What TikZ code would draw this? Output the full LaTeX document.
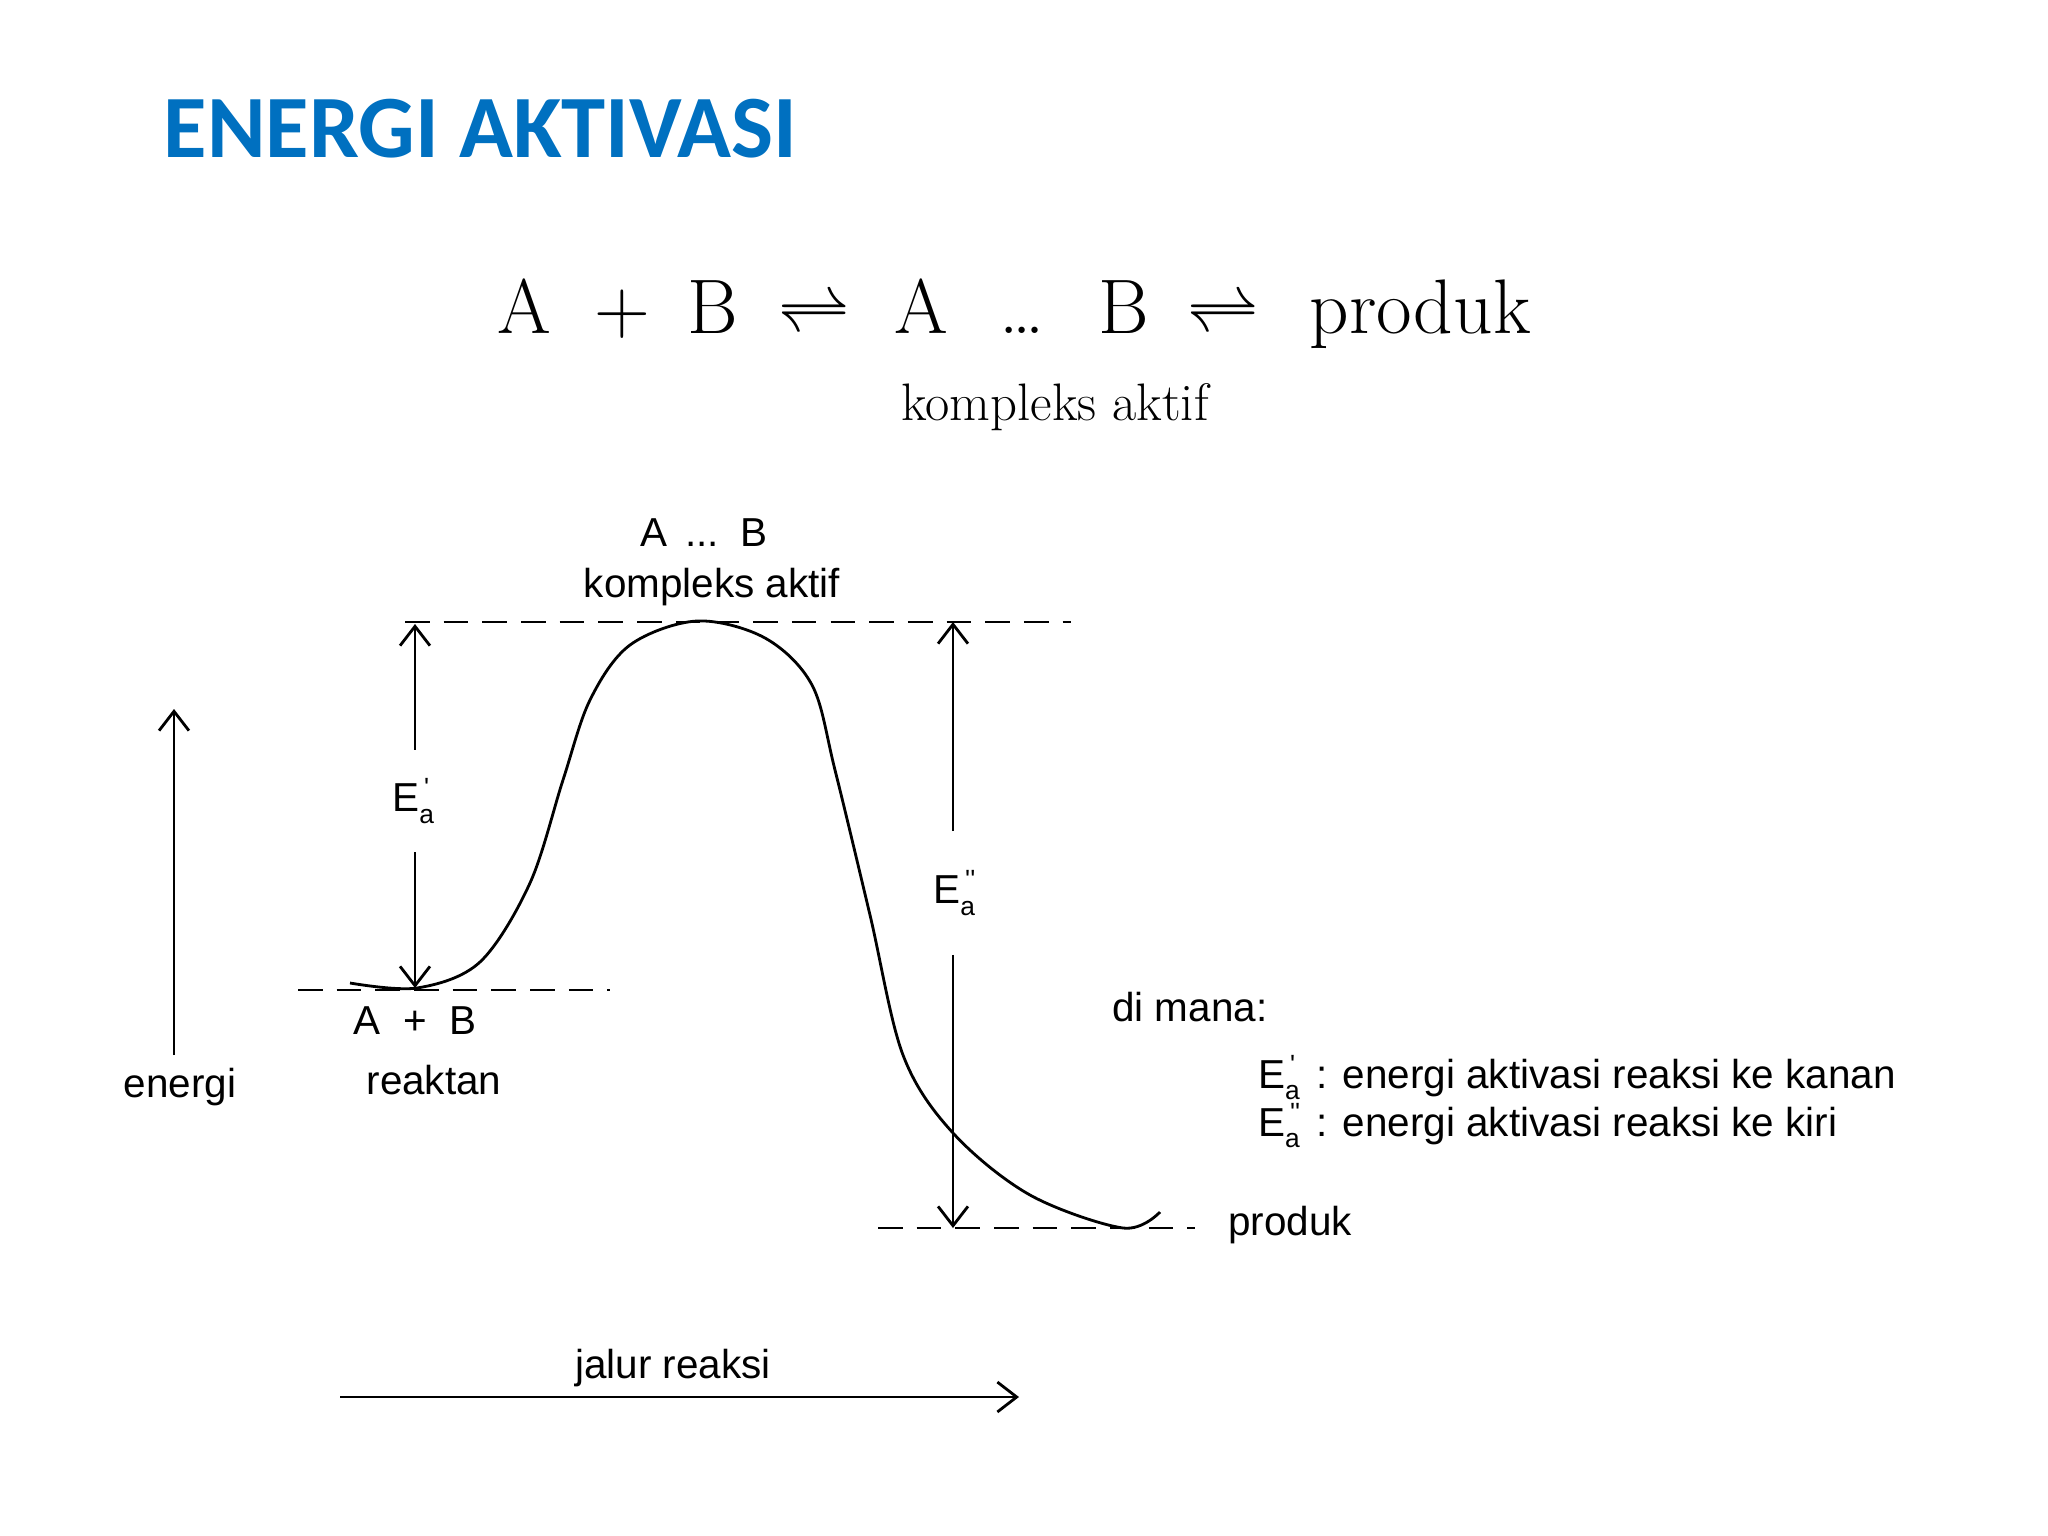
\documentclass[tikz,border=0pt]{standalone}
\usepackage{fontspec}
\setsansfont{Liberation Sans}
\newfontfamily\judulfont{Carlito}
\usetikzlibrary{arrows.meta}
\definecolor{judulbiru}{HTML}{0070C0}

\tikzset{
  garis/.style={line width=0.8pt},
  panah/.style={garis, -{Straight Barb[length=5.5pt,width=8.5pt]}},
  tingkat/.style={garis, dash pattern=on 7pt off 4pt},
  teks/.style={font=\sffamily\fontsize{11.5}{13}\selectfont, inner sep=1pt},
}
% E dengan indeks a dan tanda aksen di atasnya
\newcommand{\Ea}[1]{E\makebox[0.5em][l]{\rlap{\raisebox{-0.55ex}{\fontsize{7.5}{9}\selectfont a}}\hspace{0.12em}\raisebox{0.7ex}{\fontsize{7.5}{9}\selectfont #1}}}

\begin{document}
\begin{tikzpicture}[x=0.01cm, y=-0.01cm]
\useasboundingbox (0,0) rectangle (2048,1536);

% Judul
\node[anchor=base west, inner sep=0, text=judulbiru,
      font=\judulfont\bfseries\fontsize{25.3}{30}\selectfont] (judul) at (163,157) {ENERGI AKTIVASI};

% Persamaan reaksi
\foreach \x/\t in {524/A, 622/+, 713/B, 814/$\rightleftharpoons$, 921/A, 1022/\ldots, 1124/B, 1223/$\rightleftharpoons$, 1420/produk} {
  \node[anchor=base, inner sep=0, font=\fontsize{22}{26}\selectfont] (tok\x) at (\x,333) {\t};
}
\node[anchor=base, inner sep=0, font=\fontsize{15}{18}\selectfont] (kompleks) at (1055,420) {kompleks aktif};

% Sumbu
\coordinate (en0) at (174,1055);
\coordinate (en1) at (174,709);
\draw[panah] (en0) -- (en1);
\node[teks, anchor=base] (energi) at (180,1097) {energi};

\coordinate (jr0) at (340,1397);
\coordinate (jr1) at (1019,1397);
\draw[panah] (jr0) -- (jr1);
\node[teks, anchor=base] (jalur) at (673,1378) {jalur reaksi};

% Tingkat energi
\draw[tingkat] (405,622) -- (1071,622);
\draw[tingkat] (298,990) -- (610,990);
\draw[tingkat] (878,1228) -- (1195,1228);

% Kurva energi
\draw[garis] plot[smooth, tension=0.55] coordinates {
  (350,983) (417,988) (480,962) (530,883) (563,780) (590,700) (630,645)
  (697,621) (765,638) (812,685) (835,770) (870,915) (903,1055) (953,1133)
  (1030,1195) (1123,1228) (1160,1212)};

% Energi aktivasi
\coordinate (ea1t) at (415,624);
\coordinate (ea1b) at (415,988);
\node[teks, inner ysep=8pt] (ea1) at (416,801) {\Ea{\textquotesingle}};
\draw[panah] (ea1.north -| ea1t) -- (ea1t);
\draw[panah] (ea1.south -| ea1b) -- (ea1b);

\coordinate (ea2t) at (953,622);
\coordinate (ea2b) at (953,1228);
\node[teks, inner ysep=11pt] (ea2) at (957,893) {\Ea{\textquotesingle\textquotesingle}};
\draw[panah] (ea2.north -| ea2t) -- (ea2t);
\draw[panah] (ea2.south -| ea2b) -- (ea2b);

% Keterangan
\node[teks, anchor=base] (ab) at (704,546) {A \,...\, B};
\node[teks, anchor=base] (aktif) at (712,597) {kompleks aktif};
\node[teks, anchor=base] (reaktanAB) at (415,1034) {A \;+\; B};
\node[teks, anchor=base] (reaktan) at (434,1094) {reaktan};
\node[teks, anchor=base west] (produk) at (1224,1235) {produk};

\node[teks, anchor=base west] (dimana) at (1108,1021) {di mana:};
\node[teks, anchor=base west] (ket1) at (1254,1088) {\Ea{\textquotesingle} : energi aktivasi reaksi ke kanan};
\node[teks, anchor=base west] (ket2) at (1254,1136) {\Ea{\textquotesingle\textquotesingle} : energi aktivasi reaksi ke kiri};

\end{tikzpicture}
\end{document}
